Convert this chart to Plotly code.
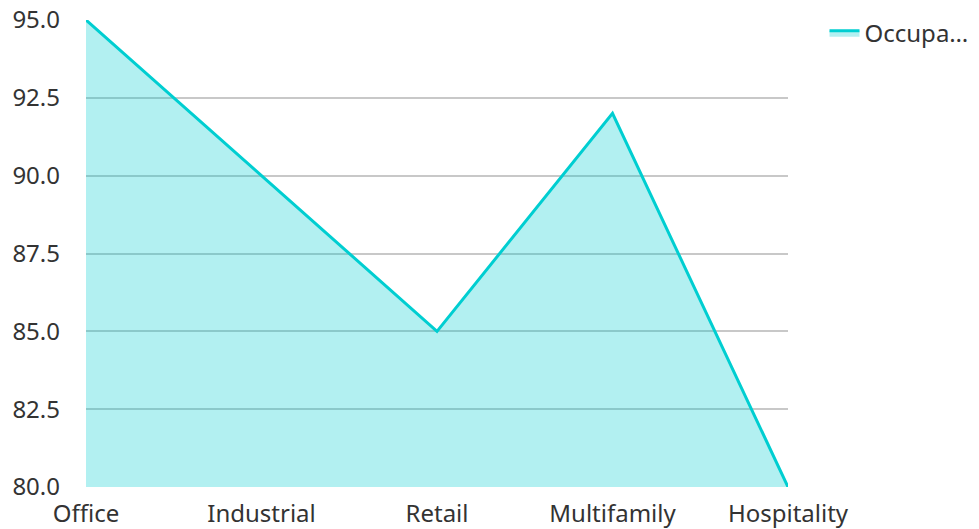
import plotly.graph_objects as go

categories = ["Office", "Industrial", "Retail", "Multifamily", "Hospitality"]
occupancy = [95, 90, 85, 92, 80]
series_name = "Occupa…"
y_ticks = [80.0, 82.5, 85.0, 87.5, 90.0, 92.5, 95.0]

fig = go.Figure()
fig.add_trace(go.Scatter(
    x=categories, y=occupancy, name=series_name, mode="lines",
    line=dict(color="#00CED1", width=3),
    fill="tozeroy", fillcolor="rgba(0,206,209,0.3)",
))
fig.update_layout(
    width=971, height=521,
    margin=dict(l=78, r=191, t=12, b=42, autoexpand=False),
    paper_bgcolor="white", plot_bgcolor="white",
    font=dict(family="Noto Sans", size=24, color="#333333"),
    showlegend=True,
    legend=dict(x=1.052, y=1.02, xanchor="left", yanchor="top", font=dict(size=24)),
    xaxis=dict(range=[0, 4], showgrid=False, zeroline=False, showline=False,
               ticks="", tickfont=dict(size=24), automargin=False,
               ticklabelstandoff=10, ticklabeloverflow="allow"),
    yaxis=dict(range=[80, 95], tickvals=y_ticks, tickformat=".1f",
               showgrid=True, gridcolor="#c8c8c8", gridwidth=1.5,
               zeroline=False, showline=False, ticks="", tickfont=dict(size=24),
               ticklabelstandoff=25, automargin=False, ticklabeloverflow="allow"),
)
fig.write_html("out.html")
